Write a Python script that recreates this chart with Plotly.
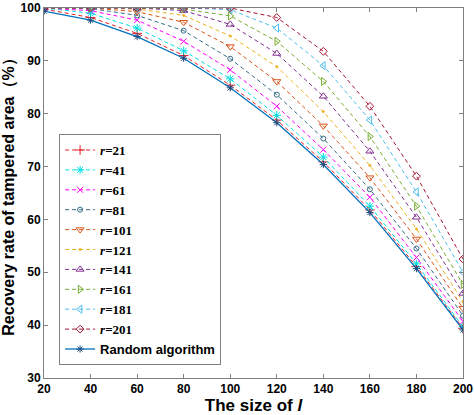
import plotly.graph_objects as go

sizes = [20, 40, 60, 80, 100, 120, 140, 160, 180, 200]

r_labels = ["21", "41", "61", "81", "101", "121", "141", "161", "181", "201"]
r_values = [
    [99.8, 98.2, 95.2, 91.0, 85.4, 78.8, 70.9, 61.8, 51.1, 39.4],
    [100, 99.0, 96.2, 91.9, 86.6, 79.7, 71.8, 62.5, 51.6, 39.7],
    [100, 99.5, 97.7, 93.7, 88.3, 81.4, 73.2, 64.2, 52.8, 40.7],
    [100, 99.9, 98.6, 95.7, 90.4, 83.6, 75.3, 65.7, 54.5, 41.8],
    [100, 100, 99.3, 97.3, 92.7, 86.1, 77.7, 67.9, 56.3, 43.2],
    [100, 100, 99.8, 98.6, 94.7, 88.9, 80.4, 70.2, 58.2, 44.4],
    [100, 100, 100, 99.5, 96.9, 91.4, 83.3, 72.9, 60.4, 46.0],
    [100, 100, 100, 99.8, 98.5, 93.7, 86.1, 75.7, 62.5, 47.7],
    [100, 100, 100, 100, 99.7, 96.2, 89.1, 78.8, 65.2, 50.0],
    [100, 100, 100, 100, 100, 98.2, 91.8, 81.4, 68.2, 52.5],
]
random_alg = [99.4, 97.7, 94.6, 90.5, 84.9, 78.3, 70.4, 61.3, 50.7, 39.1]

colors = ["#e8232a", "#00e0e0", "#ff00ff", "#336b87", "#d95319",
          "#edb120", "#7e2f8e", "#77ac30", "#4dbeee", "#a2142f"]
symbols = ["cross-thin-open", "asterisk-open", "x-thin-open", "circle-open",
           "triangle-down-open", "circle", "triangle-up-open",
           "triangle-right-open", "triangle-left-open", "diamond-open"]
msizes = [7, 7, 6, 5, 7, 2, 7, 7, 7, 6]

fig = go.Figure()
for lab, vals, c, s, ms in zip(r_labels, r_values, colors, symbols, msizes):
    fig.add_trace(go.Scatter(
        x=sizes, y=vals, mode="lines+markers",
        name="<b><i>r</i>=" + lab + "</b>",
        line=dict(color=c, width=1, dash="4px,3px"),
        marker=dict(symbol=s, size=ms, color=c, line=dict(color=c, width=1)),
    ))

fig.add_trace(go.Scatter(
    x=sizes, y=random_alg, mode="lines+markers",
    name="<span style='font-family:Arial;font-size:13px'><b>Random algorithm</b></span>",
    line=dict(color="#0072bd", width=1.3),
    marker=dict(symbol="asterisk-open", size=6, color="#1f4f7f",
                line=dict(color="#1f4f7f", width=1)),
))

axis_style = dict(
    showgrid=False, zeroline=False, showline=True, linecolor="#808080",
    linewidth=1, mirror="ticks", ticks="inside", ticklen=4,
    tickcolor="#808080",
    tickfont=dict(family="Arial", size=12, color="black"),
)

fig.update_layout(
    width=474, height=415,
    margin=dict(l=43, r=11, t=7, b=35),
    paper_bgcolor="white", plot_bgcolor="white",
    showlegend=True,
    legend=dict(
        x=0.036, y=0.035, xanchor="left", yanchor="bottom",
        bgcolor="white", bordercolor="#808080", borderwidth=1,
        font=dict(family="Liberation Serif", size=13, color="black"),
        itemwidth=30, tracegroupgap=0,
    ),
)
fig.update_xaxes(
    range=[20, 200], dtick=20, tickprefix="<b>", ticksuffix="</b>",
    automargin="height",
    title=dict(text="<b>The size of <i>l</i></b>", standoff=0,
               font=dict(family="Arial", size=17, color="black")),
    **axis_style,
)
fig.update_yaxes(
    range=[30, 100], dtick=10, tickprefix="<b>", ticksuffix="</b>",
    automargin="width",
    title=dict(text="<b>Recovery rate of tampered area（%）</b>", standoff=2,
               font=dict(family="Arial", size=16, color="black")),
    **axis_style,
)

fig.write_html("out.html", config={"displayModeBar": False},
               post_script="document.body.style.margin='0';")
